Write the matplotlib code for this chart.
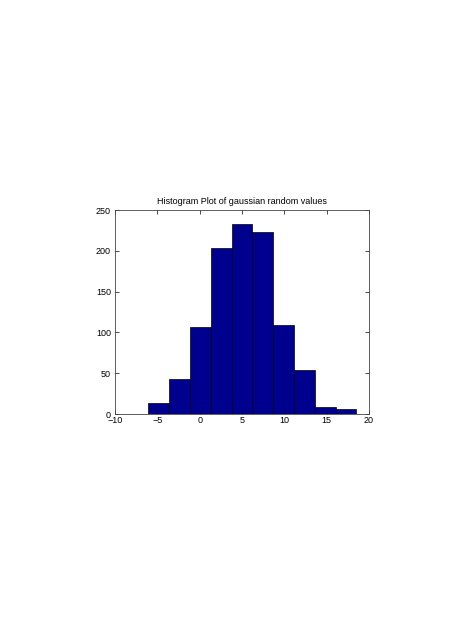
import matplotlib
matplotlib.use("Agg")
import matplotlib.pyplot as plt
import numpy as np

bin_edges = [-6.05, -3.595, -1.14, 1.315, 3.77, 6.225, 8.68, 11.135, 13.59, 16.045, 18.5]
counts = [13, 43, 107, 204, 233, 223, 109, 54, 8, 6]
x_ticks = [-10, -5, 0, 5, 10, 15, 20]
y_ticks = [0, 50, 100, 150, 200, 250]
title = "Histogram Plot of gaussian random values"

plt.rcParams['font.family'] = ['Liberation Sans', 'DejaVu Sans']

fig = plt.figure(figsize=(4.74, 6.32), dpi=100)
W, H = 474, 632
ax = fig.add_axes([115 / W, 1 - 414 / H, (369 - 115) / W, (414 - 210) / H])

edges = np.array(bin_edges)
ax.bar(edges[:-1], counts, width=np.diff(edges), align='edge',
       color=(0, 0, 0.5625), edgecolor='black', linewidth=0.5)

ax.set_xlim(-10, 20)
ax.set_ylim(0, 250)
ax.set_xticks(x_ticks)
ax.set_yticks(y_ticks)
ax.tick_params(direction='in', top=True, right=True, labelsize=6.5, length=3,
               width=0.5, colors='black')
ax.tick_params(axis='x', pad=1.5)
ax.tick_params(axis='y', pad=3)
for s in ax.spines.values():
    s.set_linewidth(0.6)
    s.set_color('#444444')
ax.set_title(title, fontsize=6.5, pad=4)

fig.savefig("out.png", dpi=100)
